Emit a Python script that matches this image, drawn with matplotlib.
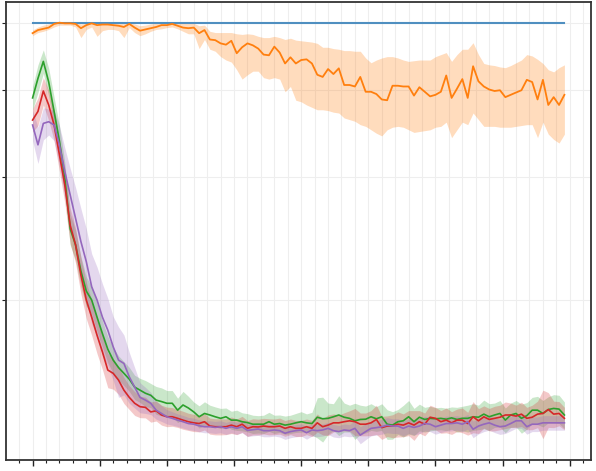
import matplotlib
matplotlib.use('Agg')
import matplotlib.pyplot as plt
import numpy as np
from matplotlib.ticker import FixedLocator, MultipleLocator, NullFormatter, NullLocator

# 100 evaluation steps, every 2 units
steps = np.arange(0, 200, 2)

blue_mean = [5.0] * 100

orange_mean = [
    4.83, 4.88, 4.90, 4.92, 4.98, 5.00, 4.99, 4.99, 4.98, 4.91,
    4.96, 4.99, 4.96, 4.97, 4.97, 4.96, 4.95, 4.93, 4.98, 4.92,
    4.87, 4.89, 4.91, 4.93, 4.96, 4.96, 4.98, 4.95, 4.92, 4.91,
    4.92, 4.83, 4.88, 4.73, 4.72, 4.67, 4.65, 4.71, 4.52, 4.61,
    4.67, 4.64, 4.59, 4.50, 4.49, 4.62, 4.53, 4.37, 4.46, 4.37,
    4.42, 4.43, 4.37, 4.21, 4.18, 4.29, 4.22, 4.30, 4.07, 4.07,
    4.05, 4.18, 3.98, 3.98, 3.95, 3.88, 3.87, 4.06, 4.06, 4.05,
    4.05, 3.93, 4.04, 3.98, 3.92, 3.94, 3.98, 4.20, 3.90, 4.02,
    4.15, 3.90, 4.33, 4.12, 4.05, 4.01, 3.99, 4.00, 3.91, 3.94,
    3.97, 4.00, 4.14, 4.11, 3.88, 4.14, 3.81, 3.91, 3.81, 3.94,
]
orange_high = [
    4.88, 4.93, 4.96, 4.98, 5.00, 5.00, 5.00, 5.00, 5.00, 4.98,
    4.99, 4.99, 4.99, 4.99, 4.99, 4.99, 4.99, 4.99, 5.00, 4.98,
    4.95, 4.96, 4.98, 4.99, 4.99, 4.99, 4.99, 4.99, 4.99, 4.99,
    4.99, 4.95, 4.96, 4.86, 4.84, 4.84, 4.84, 4.84, 4.82, 4.81,
    4.82, 4.81, 4.78, 4.76, 4.76, 4.78, 4.76, 4.73, 4.75, 4.72,
    4.71, 4.70, 4.69, 4.67, 4.61, 4.61, 4.59, 4.58, 4.56, 4.56,
    4.55, 4.55, 4.45, 4.38, 4.42, 4.45, 4.47, 4.47, 4.45, 4.42,
    4.40, 4.41, 4.42, 4.42, 4.42, 4.47, 4.50, 4.53, 4.40, 4.50,
    4.58, 4.58, 4.68, 4.50, 4.37, 4.35, 4.34, 4.32, 4.31, 4.34,
    4.38, 4.42, 4.50, 4.48, 4.43, 4.37, 4.28, 4.25, 4.31, 4.35,
]
orange_low = [
    4.79, 4.84, 4.86, 4.89, 4.93, 4.96, 4.96, 4.96, 4.93, 4.76,
    4.89, 4.93, 4.78, 4.87, 4.89, 4.89, 4.87, 4.76, 4.92, 4.84,
    4.79, 4.82, 4.86, 4.89, 4.90, 4.92, 4.93, 4.90, 4.86, 4.82,
    4.82, 4.59, 4.73, 4.58, 4.55, 4.47, 4.42, 4.39, 4.28, 4.15,
    4.21, 4.26, 4.26, 4.17, 4.15, 4.17, 4.15, 3.98, 4.05, 3.87,
    3.85, 3.81, 3.78, 3.75, 3.75, 3.74, 3.72, 3.71, 3.65, 3.63,
    3.61, 3.57, 3.55, 3.51, 3.47, 3.44, 3.51, 3.54, 3.55, 3.54,
    3.51, 3.48, 3.49, 3.50, 3.51, 3.54, 3.55, 3.60, 3.42, 3.51,
    3.60, 3.57, 3.71, 3.63, 3.55, 3.55, 3.55, 3.54, 3.54, 3.54,
    3.55, 3.56, 3.57, 3.57, 3.42, 3.60, 3.46, 3.40, 3.36, 3.46,
]

green_mean = [
    3.90, 4.16, 4.40, 4.11, 3.73, 3.38, 2.99, 2.53, 2.40, 2.20,
    2.06, 2.00, 1.89, 1.79, 1.70, 1.64, 1.60, 1.57, 1.54, 1.50,
    1.485, 1.47, 1.46, 1.437, 1.43, 1.422, 1.422, 1.39, 1.414, 1.40,
    1.382, 1.36, 1.375, 1.368, 1.36, 1.353, 1.36, 1.345, 1.345, 1.338,
    1.334, 1.327, 1.327, 1.327, 1.338, 1.327, 1.33, 1.323, 1.327, 1.333,
    1.338, 1.333, 1.33, 1.358, 1.351, 1.353, 1.36, 1.368, 1.358, 1.353,
    1.342, 1.348, 1.349, 1.36, 1.351, 1.36, 1.327, 1.323, 1.338, 1.342,
    1.36, 1.338, 1.358, 1.348, 1.353, 1.351, 1.353, 1.349, 1.355, 1.348,
    1.353, 1.353, 1.36, 1.358, 1.372, 1.36, 1.368, 1.375, 1.345, 1.368,
    1.375, 1.353, 1.365, 1.39, 1.39, 1.375, 1.393, 1.398, 1.395, 1.368,
]
green_spread = [
    0.15, 0.19, 0.17, 0.19, 0.18, 0.18, 0.16, 0.13, 0.12, 0.11,
    0.10, 0.09, 0.087, 0.077, 0.073, 0.07, 0.063, 0.062, 0.061, 0.06,
    0.059, 0.063, 0.058, 0.066, 0.066, 0.061, 0.061, 0.056, 0.065, 0.055,
    0.046, 0.05, 0.054, 0.045, 0.045, 0.045, 0.04, 0.04, 0.045, 0.04,
    0.04, 0.04, 0.038, 0.04, 0.042, 0.04, 0.038, 0.04, 0.04, 0.042,
    0.045, 0.04, 0.05, 0.09, 0.10, 0.07, 0.06, 0.09, 0.065, 0.06,
    0.08, 0.065, 0.06, 0.06, 0.055, 0.06, 0.065, 0.06, 0.055, 0.07,
    0.075, 0.06, 0.06, 0.055, 0.055, 0.05, 0.05, 0.05, 0.05, 0.055,
    0.055, 0.06, 0.06, 0.055, 0.065, 0.06, 0.055, 0.06, 0.055, 0.055,
    0.06, 0.065, 0.06, 0.06, 0.065, 0.06, 0.06, 0.065, 0.065, 0.06,
]

red_mean = [
    3.625, 3.73, 3.99, 3.81, 3.566, 3.23, 2.925, 2.56, 2.40, 2.17,
    2.00, 1.89, 1.78, 1.685, 1.587, 1.57, 1.535, 1.485, 1.45, 1.422,
    1.406, 1.403, 1.382, 1.387, 1.368, 1.36, 1.36, 1.353, 1.345, 1.338,
    1.333, 1.33, 1.338, 1.319, 1.316, 1.316, 1.316, 1.323, 1.316, 1.327,
    1.309, 1.316, 1.315, 1.319, 1.316, 1.316, 1.319, 1.309, 1.316, 1.309,
    1.309, 1.316, 1.309, 1.333, 1.316, 1.323, 1.333, 1.333, 1.338, 1.342,
    1.338, 1.327, 1.327, 1.333, 1.348, 1.312, 1.319, 1.319, 1.327, 1.323,
    1.333, 1.323, 1.338, 1.327, 1.358, 1.353, 1.338, 1.345, 1.333, 1.345,
    1.345, 1.33, 1.36, 1.342, 1.36, 1.348, 1.353, 1.358, 1.368, 1.368,
    1.363, 1.372, 1.353, 1.358, 1.372, 1.375, 1.393, 1.372, 1.375, 1.353,
]
red_spread = [
    0.14, 0.17, 0.18, 0.19, 0.18, 0.17, 0.17, 0.15, 0.14, 0.13,
    0.12, 0.11, 0.105, 0.095, 0.09, 0.08, 0.07, 0.064, 0.057, 0.056,
    0.05, 0.048, 0.046, 0.046, 0.045, 0.044, 0.042, 0.04, 0.04, 0.038,
    0.038, 0.036, 0.036, 0.035, 0.035, 0.035, 0.034, 0.036, 0.034, 0.035,
    0.034, 0.035, 0.034, 0.034, 0.035, 0.034, 0.035, 0.034, 0.034, 0.035,
    0.035, 0.034, 0.035, 0.04, 0.035, 0.045, 0.04, 0.035, 0.04, 0.045,
    0.06, 0.05, 0.05, 0.055, 0.065, 0.05, 0.045, 0.05, 0.055, 0.05,
    0.055, 0.065, 0.05, 0.05, 0.055, 0.05, 0.05, 0.055, 0.05, 0.05,
    0.055, 0.05, 0.07, 0.055, 0.05, 0.05, 0.055, 0.055, 0.06, 0.055,
    0.05, 0.055, 0.05, 0.055, 0.06, 0.11, 0.08, 0.06, 0.055, 0.05,
]

purple_mean = [
    3.566, 3.34, 3.585, 3.605, 3.566, 3.338, 3.056, 2.83, 2.62, 2.425,
    2.27, 2.09, 2.00, 1.89, 1.811, 1.714, 1.64, 1.622, 1.552, 1.50,
    1.45, 1.437, 1.422, 1.39, 1.375, 1.36, 1.353, 1.345, 1.338, 1.33,
    1.327, 1.32, 1.316, 1.316, 1.313, 1.316, 1.309, 1.316, 1.309, 1.316,
    1.30, 1.303, 1.306, 1.299, 1.299, 1.302, 1.299, 1.288, 1.295, 1.299,
    1.302, 1.29, 1.302, 1.299, 1.302, 1.309, 1.299, 1.295, 1.302, 1.299,
    1.309, 1.28, 1.295, 1.309, 1.312, 1.316, 1.323, 1.319, 1.319, 1.309,
    1.319, 1.313, 1.319, 1.33, 1.327, 1.316, 1.323, 1.33, 1.33, 1.333,
    1.327, 1.338, 1.305, 1.319, 1.327, 1.333, 1.323, 1.316, 1.319, 1.33,
    1.342, 1.342, 1.316, 1.327, 1.327, 1.333, 1.333, 1.333, 1.333, 1.333,
]
purple_spread = [
    0.18, 0.20, 0.19, 0.155, 0.18, 0.22, 0.25, 0.26, 0.28, 0.28,
    0.26, 0.24, 0.23, 0.22, 0.20, 0.18, 0.19, 0.16, 0.13, 0.10,
    0.072, 0.062, 0.052, 0.041, 0.036, 0.032, 0.030, 0.028, 0.028, 0.027,
    0.027, 0.026, 0.026, 0.026, 0.026, 0.026, 0.026, 0.026, 0.026, 0.026,
    0.026, 0.026, 0.027, 0.026, 0.026, 0.026, 0.027, 0.026, 0.026, 0.026,
    0.026, 0.027, 0.026, 0.026, 0.026, 0.026, 0.027, 0.026, 0.026, 0.026,
    0.034, 0.036, 0.034, 0.032, 0.032, 0.032, 0.033, 0.032, 0.032, 0.032,
    0.032, 0.032, 0.033, 0.032, 0.032, 0.032, 0.032, 0.033, 0.032, 0.032,
    0.032, 0.032, 0.036, 0.034, 0.032, 0.032, 0.032, 0.033, 0.032, 0.032,
    0.033, 0.033, 0.032, 0.032, 0.032, 0.032, 0.032, 0.032, 0.032, 0.032,
]

fig = plt.figure(figsize=(5.96, 4.71), dpi=100)
ax = fig.add_axes([6 / 596, 11 / 471, 585 / 596, 458 / 471])

ax.plot(steps, blue_mean, color='#4f8fc0', lw=1.5, zorder=3)

ax.fill_between(steps, orange_low, orange_high, color='#ff7f0e', alpha=0.27, lw=0, zorder=2)
ax.plot(steps, orange_mean, color='#ff7f0e', lw=1.3, zorder=3)

for mean, spread, col in [(green_mean, green_spread, '#2ca02c'),
                          (red_mean, red_spread, '#d62728'),
                          (purple_mean, purple_spread, '#9467bd')]:
    m = np.array(mean)
    s = np.array(spread)
    ax.fill_between(steps, m - s, m + s, color=col, alpha=0.25, lw=0, zorder=2)
    ax.plot(steps, m, color=col, lw=1.2, zorder=3)

ax.set_yscale('log')
ax.set_ylim(1.179, 5.354)
ax.set_xlim(-9.9, 207.9)

ax.yaxis.set_major_locator(FixedLocator([2, 3, 4, 5]))
ax.yaxis.set_minor_locator(NullLocator())
ax.yaxis.set_major_formatter(NullFormatter())
ax.yaxis.set_minor_formatter(NullFormatter())
ax.xaxis.set_major_locator(MultipleLocator(25))
ax.xaxis.set_minor_locator(MultipleLocator(5))
ax.xaxis.set_major_formatter(NullFormatter())

ax.tick_params(axis='x', which='major', length=4.5, width=1, color='#222222')
ax.tick_params(axis='x', which='minor', length=2.5, width=0.8, color='#222222')
ax.tick_params(axis='y', which='major', length=3, width=0.8, color='#222222')

ax.grid(True, axis='x', which='both', color='#eeeeee', lw=0.8)
ax.grid(True, axis='y', which='major', color='#eeeeee', lw=0.8)
ax.set_axisbelow(True)

for sp in ax.spines.values():
    sp.set_color('#333333')
    sp.set_linewidth(1.3)

fig.savefig('out.png', dpi=100)
